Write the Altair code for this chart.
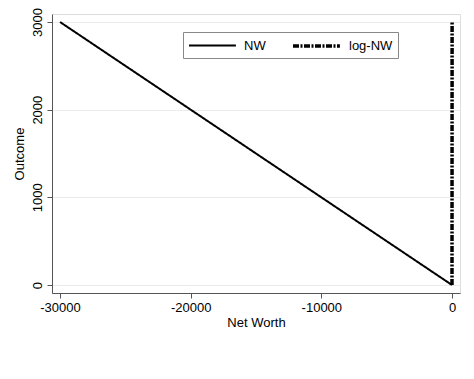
import altair as alt
import pandas as pd

series = ["NW", "log-NW"]
nw_x = [-30000, 0]
nw_y = [3000, 0]
lognw_x = [0.0, 8.0]
lognw_y = [0, 3000]
y_ticks = [0, 1000, 2000, 3000]
x_ticks = [-30000, -20000, -10000, 0]

rows = []
for i, (x, y) in enumerate(zip(nw_x, nw_y)):
    rows.append({"x": x, "y": y, "s": "NW", "o": i})
for i, (x, y) in enumerate(zip(lognw_x, lognw_y)):
    rows.append({"x": x, "y": y, "s": "log-NW", "o": i})
df = pd.DataFrame(rows)

FONT = "Liberation Sans"

legend = alt.Legend(
    title=None, orient="none", legendX=131, legendY=18, direction="horizontal",
    symbolType="M-1,0H5.7", symbolSize=196, symbolStrokeWidth=2,
    labelFont=FONT, labelFontSize=13, labelColor="black",
    strokeColor="#888888", padding=5, columnPadding=20, symbolOffset=0,
    labelOffset=40,
)

lab = "datum.value + ''"

chart = alt.Chart(df).mark_line().encode(
    x=alt.X("x:Q", scale=alt.Scale(domain=[-30612, 612], nice=False, zero=False),
            axis=alt.Axis(values=x_ticks, title="Net Worth", grid=False, labelExpr=lab,
                          labelFont=FONT, labelFontSize=13, labelColor="black",
                          titleFont=FONT, titleFontSize=13, titleFontWeight="normal",
                          titleColor="black", domainColor="#555555", tickColor="#555555",
                          tickSize=5, labelPadding=3, titlePadding=2, labelFlush=False)),
    y=alt.Y("y:Q", scale=alt.Scale(domain=[-91, 3091], nice=False, zero=False),
            axis=alt.Axis(values=y_ticks, title="Outcome", grid=True, gridColor="#ececec",
                          labelAngle=270, labelAlign="center", labelBaseline="bottom",
                          labelExpr=lab,
                          labelFont=FONT, labelFontSize=13, labelColor="black",
                          titleFont=FONT, titleFontSize=13, titleFontWeight="normal",
                          titleColor="black", domainColor="#555555", tickColor="#555555",
                          tickSize=5, labelPadding=3, titlePadding=5, labelFlush=False)),
    color=alt.Color("s:N", scale=alt.Scale(domain=series, range=["black", "black"]), legend=legend),
    strokeDash=alt.StrokeDash("s:N", scale=alt.Scale(domain=series, range=[[1, 0], [6, 1.5, 2, 1.5]]), legend=legend),
    strokeWidth=alt.StrokeWidth("s:N", scale=alt.Scale(domain=series, range=[2, 3.5]), legend=legend),
    order="o:Q",
    detail="s:N",
).properties(
    width=408, height=279,
    autosize=alt.AutoSizeParams(type="none"),
    padding={"left": 44, "top": 6, "right": 6, "bottom": 50},
).configure_view(stroke=None).configure(background="white")

chart.save("out.html", embed_options={"renderer": "svg", "actions": False})
